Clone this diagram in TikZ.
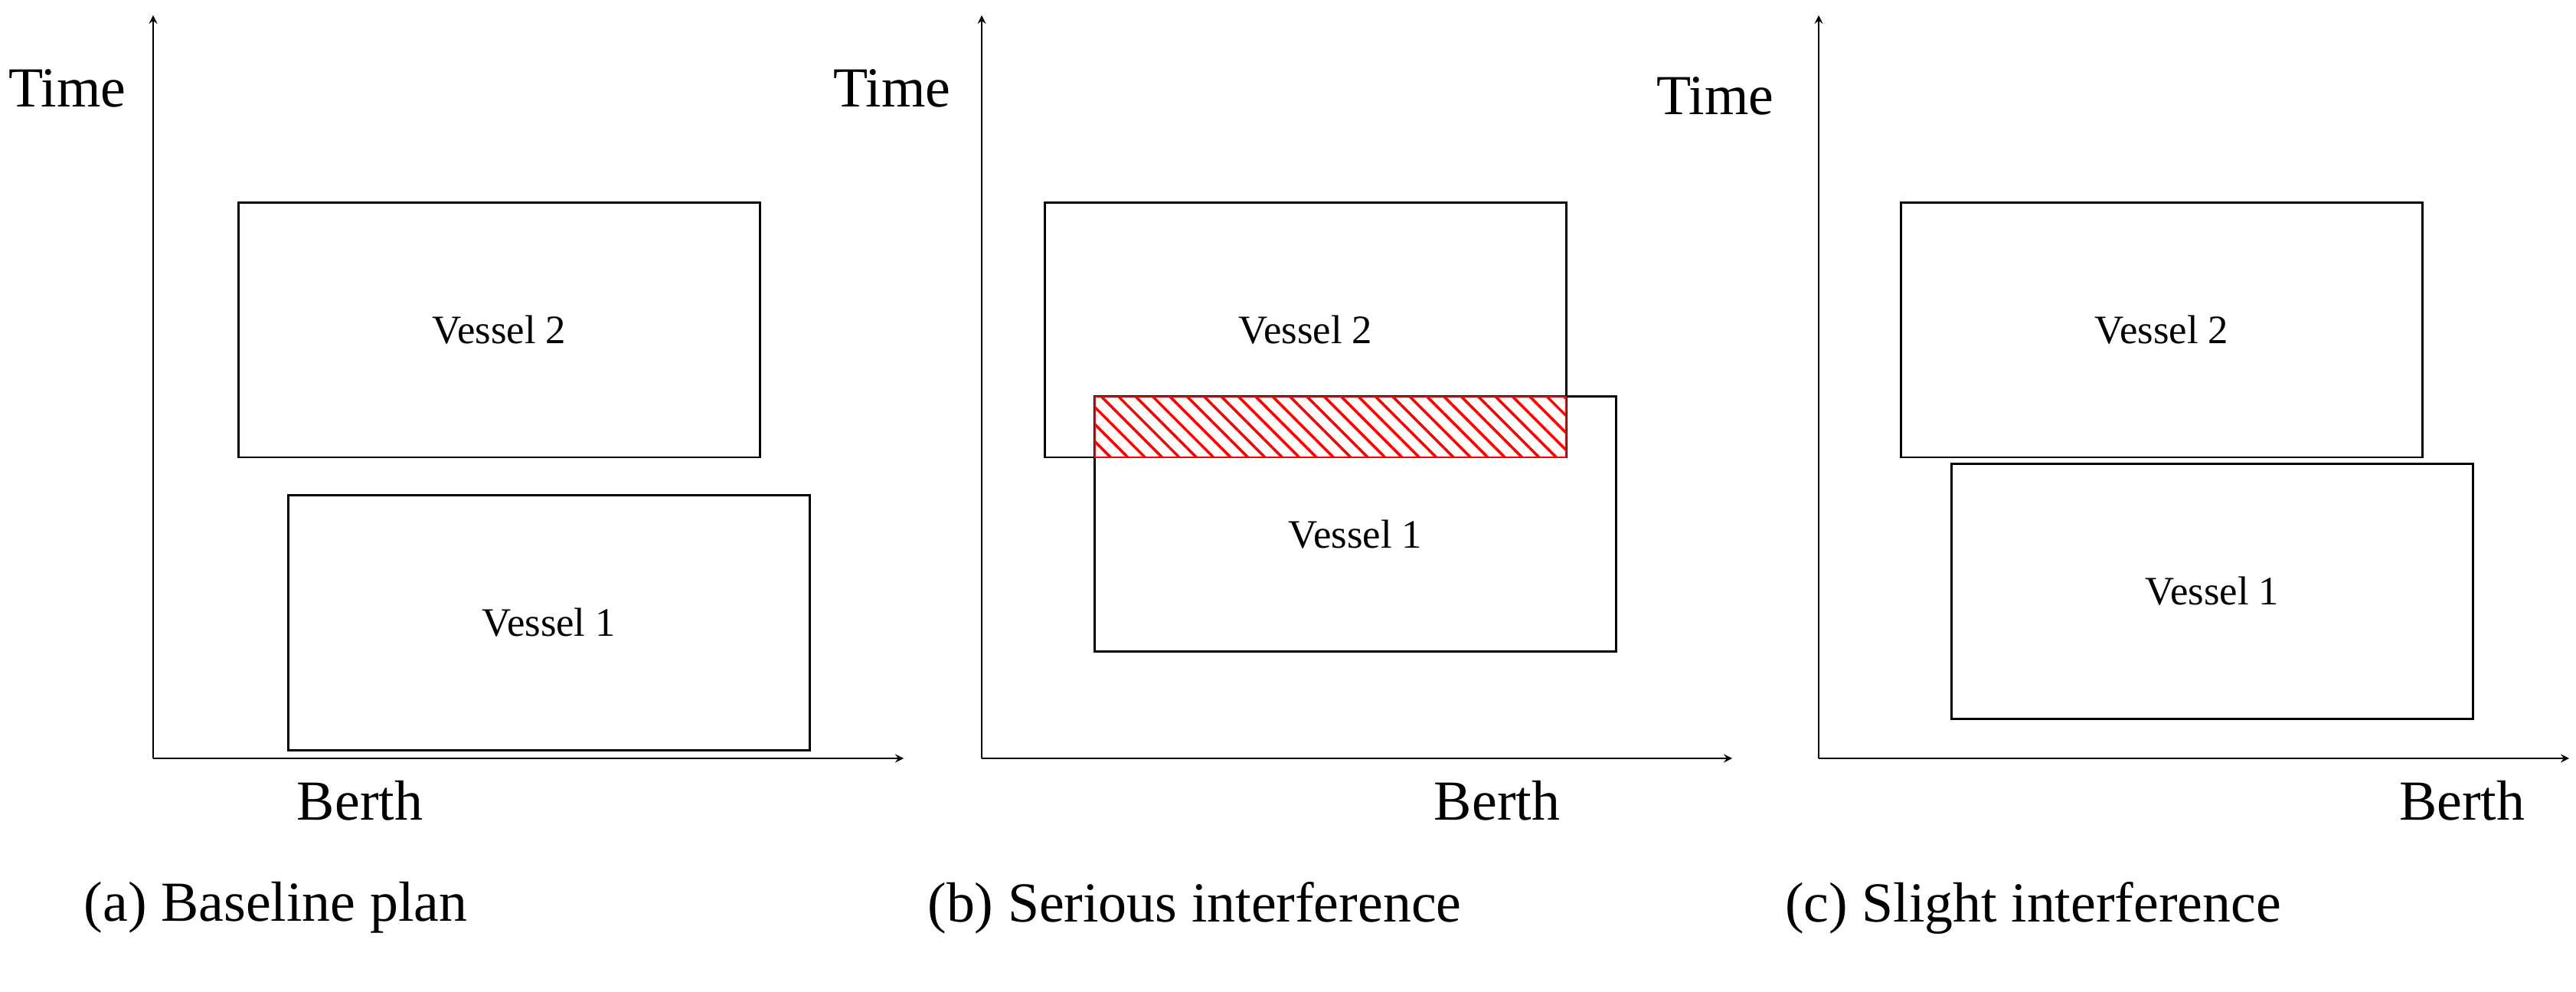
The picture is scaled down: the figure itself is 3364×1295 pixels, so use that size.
\documentclass[tikz,border=0pt]{standalone}
\usepackage{fontspec}
\setmainfont{Liberation Serif}
\usetikzlibrary{patterns.meta}
\tikzset{>=stealth}
\tikzset{vessel/.style={draw, thick, minimum width=6.8cm, minimum height=3.32cm, font=\fontsize{15}{15}\selectfont}}
\tikzset{lbl/.style={font=\fontsize{21}{21}\selectfont}}
\tikzset{axis/.style={->, thin}}
\begin{document}
\begin{tikzpicture}[x=0.01cm,y=-0.01cm]
\useasboundingbox (0,0) rectangle (3364,1295);

% (a) baseline
\coordinate (oa) at (200,990);
\draw[axis] (oa) -- (200,20);
\draw[axis] (oa) -- (1180,990);
\node[lbl] at (88,115) {Time};
\node[lbl] at (470,1045) {Berth};
\node[lbl] at (360,1185) {(a) Baseline plan};
\node[vessel] (a2) at (652,431) {Vessel 2};
\node[vessel] (a1) at (717,813) {Vessel 1};

% (b) serious
\coordinate (ob) at (1282,990);
\draw[axis] (ob) -- (1282,20);
\draw[axis] (ob) -- (2262,990);
\node[lbl] at (1165,115) {Time};
\node[lbl] at (1955,1045) {Berth};
\node[lbl] at (1560,1185) {(b) Serious interference};
\node[vessel] (b2) at (1705,431) {Vessel 2};
\node[vessel] (b1) at (1770,684) {};
\node[font=\fontsize{15}{15}\selectfont] at (1770,698) {Vessel 1};
\fill[pattern={Lines[angle=-45,distance=4.5pt,line width=1pt]}, pattern color=red] (1430,518) rectangle (2045,597);
\draw[red, thick] (1430,518) rectangle (2045,597);

% (c) slight
\coordinate (oc) at (2375,990);
\draw[axis] (oc) -- (2375,20);
\draw[axis] (oc) -- (3355,990);
\node[lbl] at (2240,125) {Time};
\node[lbl] at (3215,1045) {Berth};
\node[lbl] at (2655,1185) {(c) Slight interference};
\node[vessel] (c2) at (2823,431) {Vessel 2};
\node[vessel] (c1) at (2889,772) {Vessel 1};
\end{tikzpicture}
\end{document}
